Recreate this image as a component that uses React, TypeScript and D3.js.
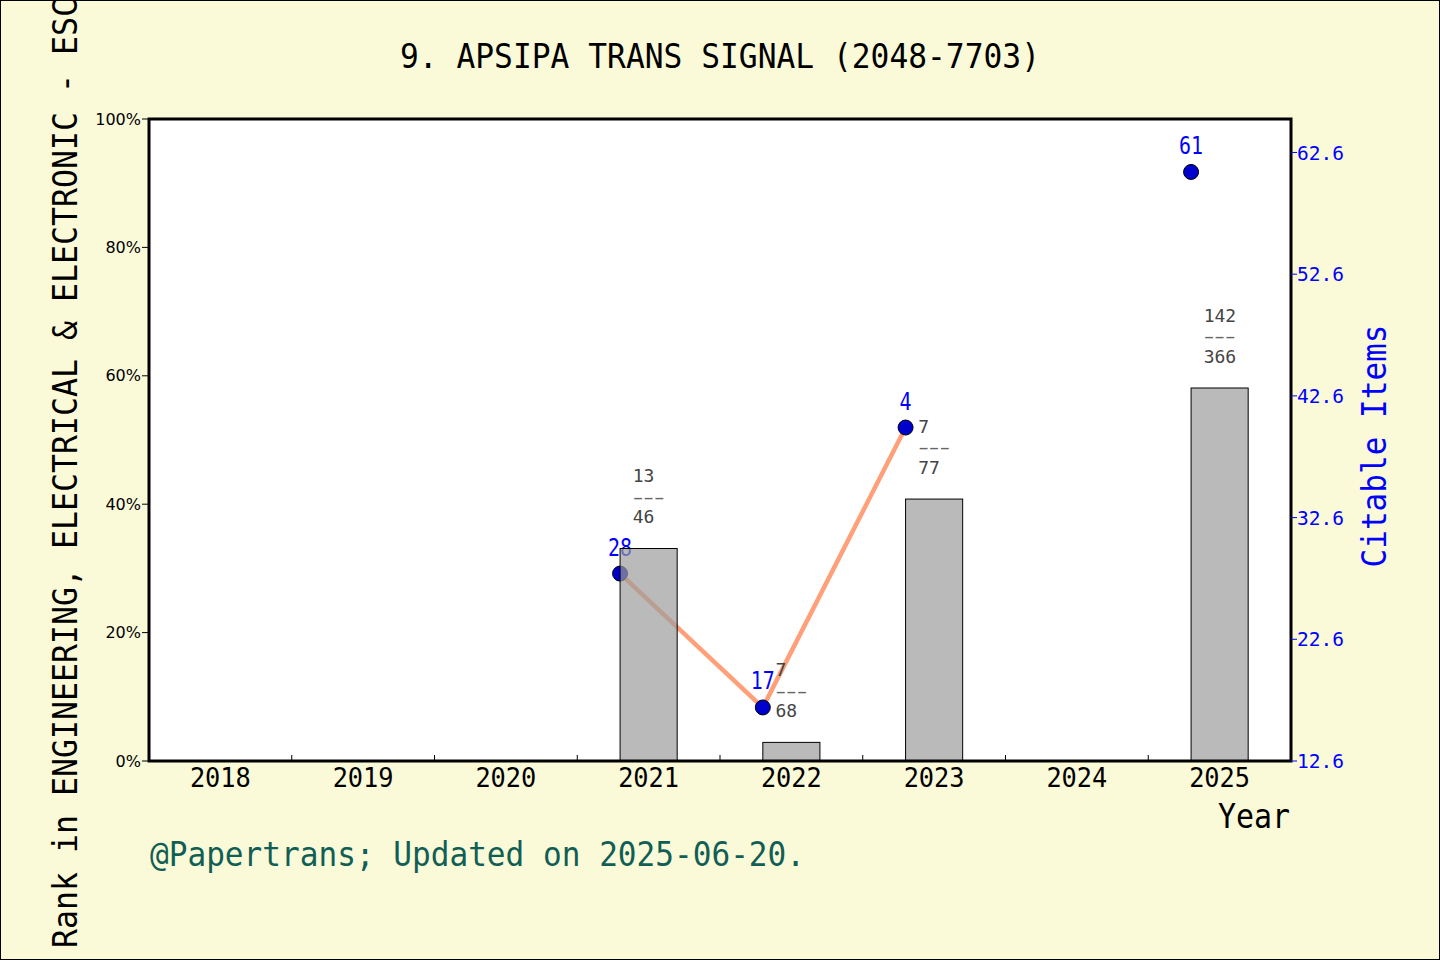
import React from "react";
import * as d3 from "d3";

const years = ["2018", "2019", "2020", "2021", "2022", "2023", "2024", "2025"];
// bar heights on the left axis (fraction of 100%)
const rankShare: (number | null)[] = [null, null, null, 0.331, 0.029, 0.408, null, 0.581];
const rankNum: (number | null)[] = [null, null, null, 13, 7, 7, null, 142];
const rankTotal: (number | null)[] = [null, null, null, 46, 68, 77, null, 366];
// citable items on the right axis
const citable: (number | null)[] = [null, null, null, 28, 17, 40, null, 61];
const citableLabels: (string | null)[] = [null, null, null, "28", "17", "4", null, "61"];
const leftTicks = [0, 0.2, 0.4, 0.6, 0.8, 1];
const rightTicks = [12.6, 22.6, 32.6, 42.6, 52.6, 62.6];

const W = 1440;
const H = 960;
const plot = { left: 149, right: 1291, top: 119, bottom: 761 };
const mono = "'DejaVu Sans Mono', monospace";

const App: React.FC = () => {
    const x = d3.scaleBand<string>().domain(years).range([plot.left, plot.right]).padding(0);
    const bw = x.bandwidth();
    const cx = (y: string) => (x(y) as number) + bw / 2;
    const yL = d3.scaleLinear().domain([0, 1]).range([plot.bottom, plot.top]);
    const yR = d3.scaleLinear().domain([12.6, 65.35]).range([plot.bottom, plot.top]);

    const pts = years.map((y, i) => ({ y, v: citable[i], label: citableLabels[i] }));
    const line = d3
        .line<{ y: string; v: number | null }>()
        .defined((d) => d.v !== null)
        .x((d) => cx(d.y) - bw * 0.2)
        .y((d) => yR(d.v as number));

    // boundaries between year bands (minor ticks)
    const bounds = years.slice(1).map((y) => x(y) as number);

    return (
        <svg
            width={W}
            height={H}
            style={{ position: "absolute", left: 0, top: 0, display: "block" }}
            xmlns="http://www.w3.org/2000/svg"
        >
            <rect x={0.5} y={0.5} width={W - 1} height={H - 1} fill="#FAFAD9" stroke="#000" strokeWidth={1} />
            <rect
                x={plot.left}
                y={plot.top}
                width={plot.right - plot.left}
                height={plot.bottom - plot.top}
                fill="#fff"
            />

            <text x={720} y={68} textAnchor="middle" fontFamily={mono} fontSize={33} textLength={640} lengthAdjust="spacingAndGlyphs">
                9. APSIPA TRANS SIGNAL (2048-7703)
            </text>

            {/* right axis series: labels, line, dots */}
            {pts.map((d) =>
                d.v === null ? null : (
                    <text
                        key={"cl" + d.y}
                        x={cx(d.y) - bw * 0.2}
                        y={yR(d.v) - 18}
                        textAnchor="middle"
                        fontFamily={mono}
                        fontSize={24}
                        fill="#0000ff"
                        textLength={12 * (d.label || "").length}
                        lengthAdjust="spacingAndGlyphs"
                    >
                        {d.label}
                    </text>
                )
            )}
            <path d={line(pts) || ""} fill="none" stroke="#FFA07A" strokeWidth={4.5} />
            {pts.map((d) =>
                d.v === null ? null : (
                    <circle
                        key={"c" + d.y}
                        cx={cx(d.y) - bw * 0.2}
                        cy={yR(d.v)}
                        r={7.5}
                        fill="#0000CD"
                        stroke="#000"
                        strokeWidth={1}
                    />
                )
            )}

            {/* bars */}
            {years.map((y, i) =>
                rankShare[i] === null ? null : (
                    <rect
                        key={"b" + y}
                        x={cx(y) - bw * 0.2}
                        y={yL(rankShare[i] as number)}
                        width={bw * 0.4}
                        height={plot.bottom - yL(rankShare[i] as number)}
                        fill="#9c9c9c"
                        fillOpacity={0.7}
                        stroke="#000"
                        strokeWidth={1}
                    />
                )
            )}

            {/* fraction annotations */}
            {years.map((y, i) => {
                if (rankShare[i] === null) return null;
                const top = yL(rankShare[i] as number) - 25;
                const lx = cx(y) - 16;
                return (
                    <g key={"f" + y} fontSize={18} fill="#444">
                        <text x={lx} y={top - 41.4} fontFamily={mono}>{String(rankNum[i])}</text>
                        <text
                            x={lx}
                            y={top - 20.7}
                            fontFamily="'DejaVu Sans', sans-serif"
                            fill="#666"
                            textLength={32}
                            lengthAdjust="spacingAndGlyphs"
                        >
                            ---
                        </text>
                        <text x={lx} y={top} fontFamily={mono}>{String(rankTotal[i])}</text>
                    </g>
                );
            })}

            {/* spines */}
            <rect
                x={plot.left}
                y={plot.top}
                width={plot.right - plot.left}
                height={plot.bottom - plot.top}
                fill="none"
                stroke="#000"
                strokeWidth={3}
            />

            {/* x axis */}
            {bounds.map((b) => (
                <line key={"mt" + b} x1={b} x2={b} y1={plot.bottom} y2={plot.bottom - 6} stroke="#000" strokeWidth={1} />
            ))}
            {years.map((y) => (
                <text
                    key={"xt" + y}
                    x={cx(y)}
                    y={787}
                    textAnchor="middle"
                    fontFamily={mono}
                    fontSize={27}
                    textLength={61}
                    lengthAdjust="spacingAndGlyphs"
                >
                    {y}
                </text>
            ))}
            <text x={1290} y={828} textAnchor="end" fontFamily={mono} fontSize={33} textLength={72} lengthAdjust="spacingAndGlyphs">
                Year
            </text>

            {/* left axis */}
            {leftTicks.map((t) => (
                <g key={"lt" + t}>
                    <line x1={plot.left - 7} x2={plot.left} y1={yL(t)} y2={yL(t)} stroke="#000" strokeWidth={1} />
                    <text
                        x={141}
                        y={yL(t)}
                        dy="0.35em"
                        textAnchor="end"
                        fontFamily="'DejaVu Sans', sans-serif"
                        fontSize={16}
                    >
                        {d3.format(".0%")(t)}
                    </text>
                </g>
            ))}
            <text
                transform="translate(77,948) rotate(-90)"
                fontFamily={mono}
                fontSize={33}
                textLength={950}
                lengthAdjust="spacingAndGlyphs"
            >
                Rank in ENGINEERING, ELECTRICAL &amp; ELECTRONIC - ESC
            </text>

            {/* right axis */}
            {rightTicks.map((t) => (
                <g key={"rt" + t}>
                    <line x1={plot.right} x2={plot.right + 6} y1={yR(t)} y2={yR(t)} stroke="#0000ff" strokeWidth={1} />
                    <text x={1297} y={yR(t)} dy="0.36em" fontFamily={mono} fontSize={20} fill="#0000ff" textLength={47} lengthAdjust="spacingAndGlyphs">
                        {t.toFixed(1)}
                    </text>
                </g>
            ))}
            <text
                transform="translate(1386,446) rotate(-90)"
                textAnchor="middle"
                fontFamily={mono}
                fontSize={33}
                fill="#0000ff"
                textLength={243}
                lengthAdjust="spacingAndGlyphs"
            >
                Citable Items
            </text>

            <text x={150} y={866} fontFamily={mono} fontSize={33} fill="#115e54" textLength={655} lengthAdjust="spacingAndGlyphs">
                @Papertrans; Updated on 2025-06-20.
            </text>
        </svg>
    );
};

export default App;
